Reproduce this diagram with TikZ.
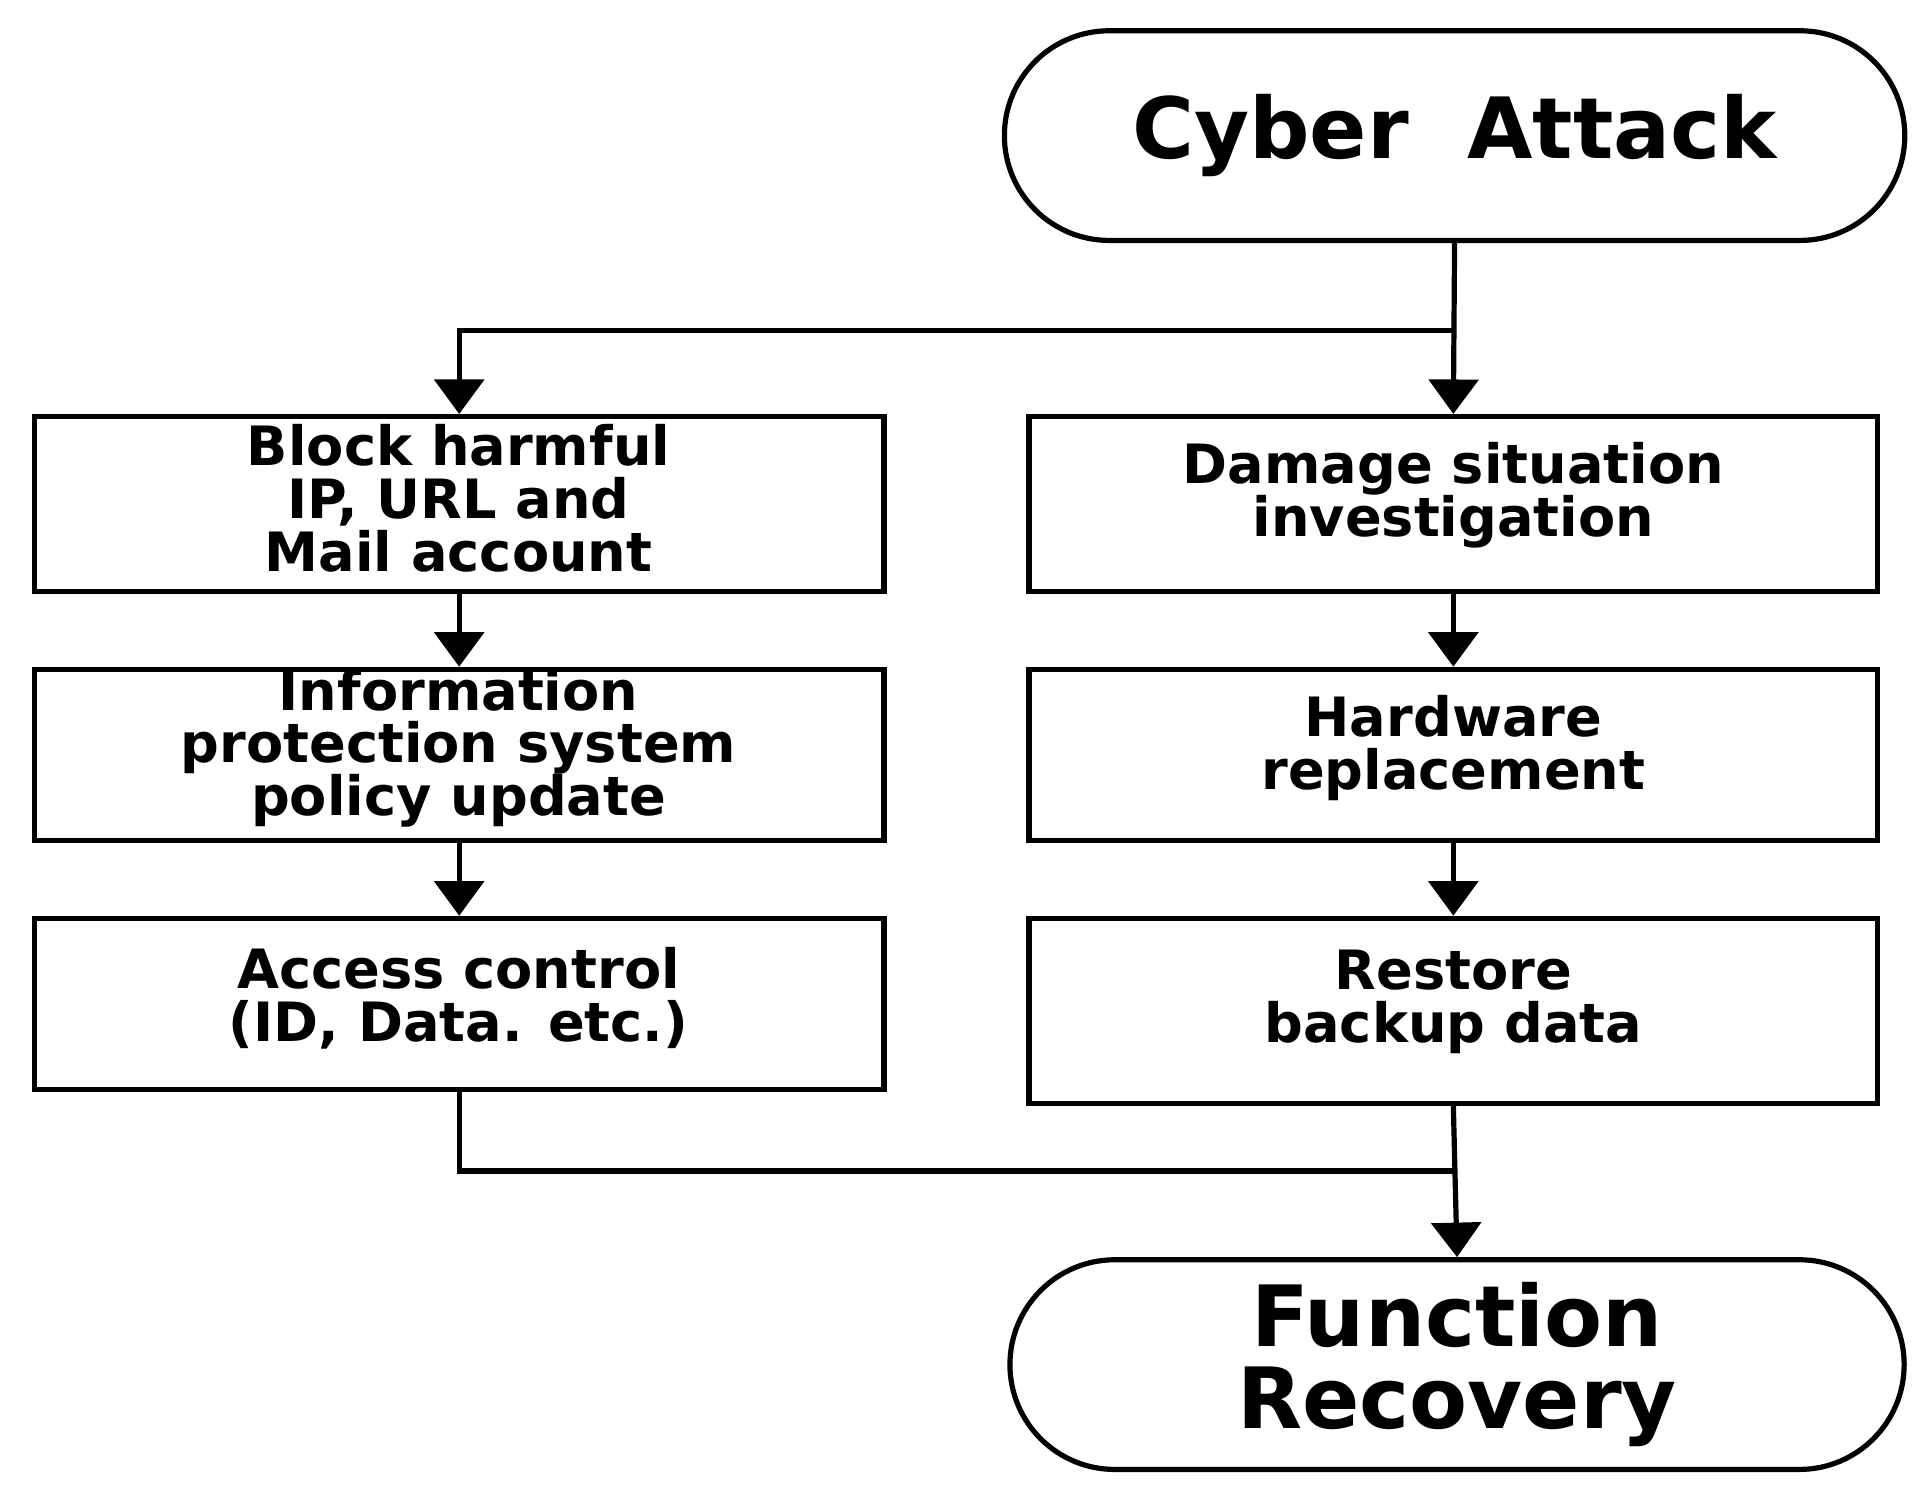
\documentclass[tikz,border=0pt]{standalone}
\usepackage{fontspec}
\setmainfont{DejaVu Sans}
\usetikzlibrary{arrows.meta}
\begin{document}
\begin{tikzpicture}[x=0.01cm,y=-0.01cm,
  box/.style={draw,line width=1.2pt,inner sep=0pt},
  txt/.style={inner sep=0pt,align=center,font=\bfseries\fontsize{12.5}{12.2}\selectfont},
  term/.style={draw,line width=1.2pt,inner sep=0pt,align=center,font=\bfseries\fontsize{19.5}{19}\selectfont},
  arr/.style={line width=1.2pt,-{Triangle[width=0.4cm,length=0.28cm]}},
  ln/.style={line width=1.2pt}]
\useasboundingbox (0,0) rectangle (1560,1209);
\node[term,minimum width=7.3cm,minimum height=1.7cm,rounded corners=0.85cm] (ca) at (1180,110) {Cyber\ \ Attack};
\node[term,minimum width=7.25cm,minimum height=1.7cm,rounded corners=0.85cm] (fr) at (1182,1107) {Function\\Recovery};
\node[box,minimum width=6.89cm,minimum height=1.42cm] (l1) at (372.5,409) {};
\node[box,minimum width=6.89cm,minimum height=1.39cm] (l2) at (372.5,612.5) {};
\node[box,minimum width=6.89cm,minimum height=1.39cm] (l3) at (372.5,814.5) {};
\node[box,minimum width=6.88cm,minimum height=1.42cm] (r1) at (1179,409) {};
\node[box,minimum width=6.88cm,minimum height=1.39cm] (r2) at (1179,612.5) {};
\node[box,minimum width=6.88cm,minimum height=1.5cm] (r3) at (1179,820) {};
\node[txt] (l1t) at (372,404) {Block harmful\\IP, URL and\\Mail account};
\node[txt] (l2t) at (372,607) {Information\\protection system\\policy update};
\node[txt] (l3t) at (372,810) {Access control\\(ID, Data. etc.)};
\node[txt] (r1t) at (1179,402) {Damage situation\\investigation};
\node[txt] (r2t) at (1179,607) {Hardware\\replacement};
\node[txt] (r3t) at (1179,813) {Restore\\backup data};
\coordinate (s) at (1180,268);
\coordinate (m) at (1180,950);
\draw[arr] (ca.south) -- (r1.north);
\draw[arr] (s) -| (l1.north);
\draw[arr] (l1) -- (l2);
\draw[arr] (l2) -- (l3);
\draw[arr] (r1) -- (r2);
\draw[arr] (r2) -- (r3);
\draw[ln] (l3.south) |- (m);
\draw[arr] (r3.south) -- (fr.north);
\end{tikzpicture}
\end{document}
